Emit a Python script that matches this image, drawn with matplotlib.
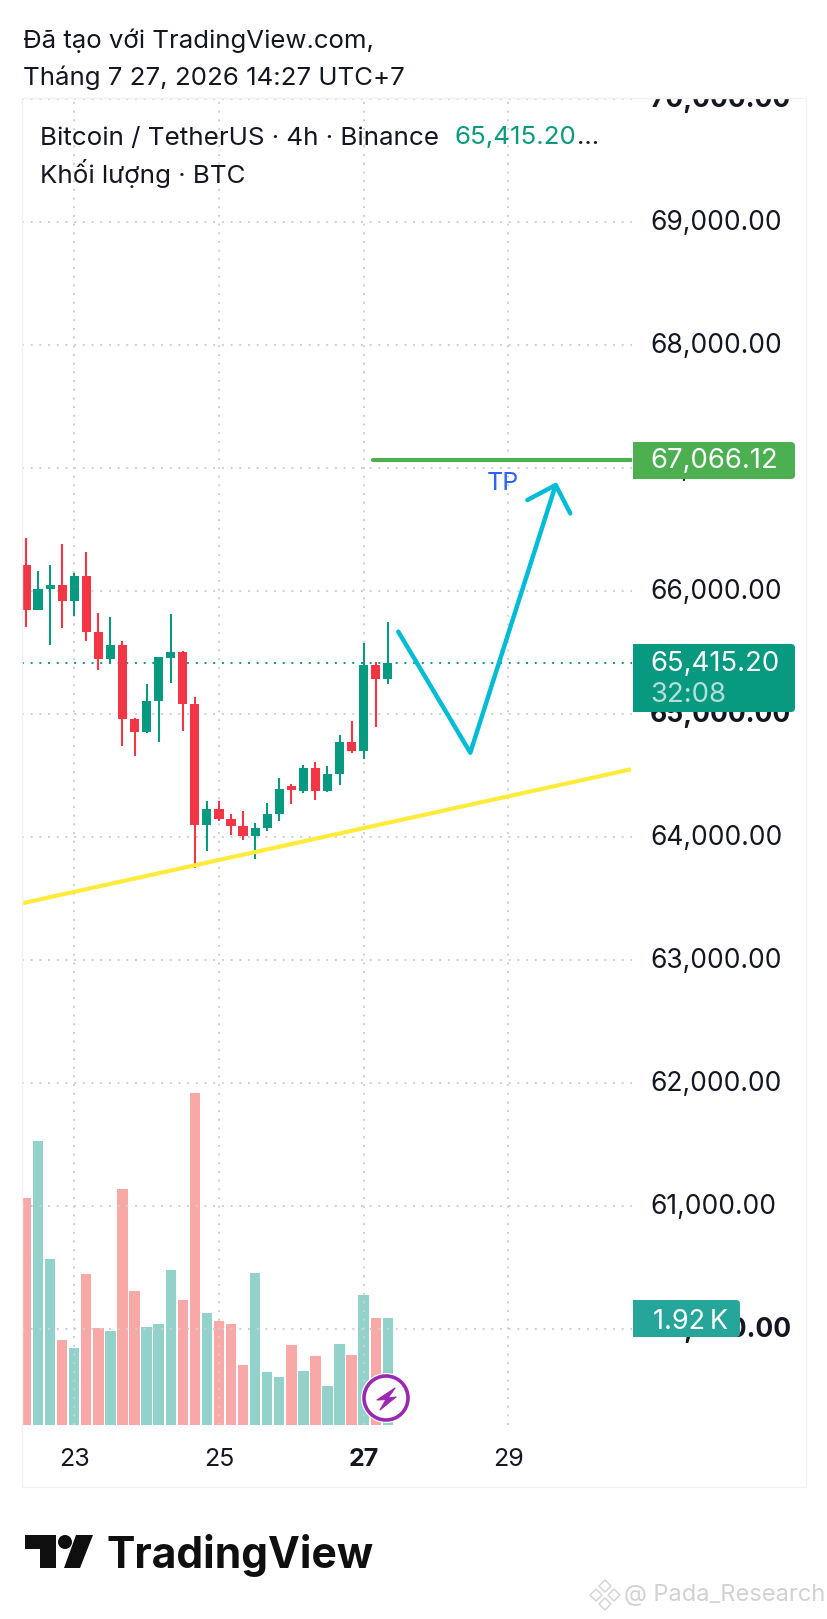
import matplotlib
matplotlib.use("Agg")
import matplotlib.pyplot as plt
from matplotlib.patches import Rectangle, FancyBboxPatch, Circle, Polygon
from matplotlib.transforms import Bbox, ScaledTranslation

plt.rcParams['font.family'] = ['Inter', 'DejaVu Sans']

# ---------- data ----------
highs = [66425, 66163, 66206, 66382, 66141, 66312, 65818, 65789, 65588, 64965, 65238,
         65463, 65808, 65512, 65133, 64293, 64293, 64182, 64209, 64114, 64276, 64477,
         64428, 64583, 64604, 64577, 64827, 64938, 65575, 65417, 65743]
lows = [65705, 65840, 65556, 65699, 65794, 65593, 65355, 65407, 64737, 64653, 64840,
        64767, 65252, 64862, 63748, 63886, 64130, 64014, 63970, 63816, 64049, 64130,
        64268, 64358, 64301, 64363, 64420, 64677, 64634, 64894, 65244]
opens = [66211, 65840, 66014, 66046, 65916, 66117, 65664, 65444, 65558, 64957, 64851,
         65100, 65455, 65499, 65081, 64098, 64228, 64141, 64089, 64008, 64068, 64184,
         64393, 64371, 64561, 64369, 64507, 64767, 64696, 65396, 65282]
closes = [65843, 66016, 66043, 65916, 66117, 65664, 65444, 65558, 64957, 64851, 65100,
          65458, 65499, 65081, 64098, 64228, 64141, 64089, 64008, 64068, 64184, 64388,
          64382, 64561, 64369, 64507, 64767, 64696, 65396, 65282, 65415]
volumes = [4086, 5112, 2982, 1524, 1380, 2724, 1752, 1698, 4254, 2418, 1758, 1824, 2784,
           2250, 5970, 2022, 1866, 1824, 1074, 2730, 948, 858, 1434, 978, 1248, 696,
           1458, 1260, 2340, 1932, 1920]
price_ticks = [60000, 61000, 62000, 63000, 64000, 65000, 66000, 67000, 68000, 69000, 70000]
bold_prices = [60000, 65000, 70000]
date_ticks = [4, 16, 28, 40]
date_labels = ['23', '25', '27', '29']
last_price = 65415.20
tp_price = 67066.12
green_x = [28.77, 50.17]
support_x = [-0.25, 50.17]
support_y = [63460, 64548]
path_x = [30.87, 36.84, 43.92]
path_y = [65667, 64683, 66859]
wing_x = [41.57, 43.92, 45.13]
wing_y = [66737, 66859, 66629]

UP, DOWN = '#089981', '#f23645'
VOL_UP, VOL_DOWN = '#92d2ca', '#f8a9a7'
W, H = 828, 1619
fig = plt.figure(figsize=(W / 100, H / 100), dpi=100, facecolor='white')

L, R, T, B = 22, 632, 98.5, 1425
rect = [L / W, 1 - B / H, (R - L) / W, (B - T) / H]
ymax = 65000 + (713.7 - T) / 0.123
ymin = 65000 - (B - 713.7) / 0.123
xmin, xmax = (L - 26) / 12.06, (R - 26) / 12.06

# volume pane (behind)
ax_v = fig.add_axes(rect, zorder=1)
ax_v.set_xlim(xmin, xmax)
ax_v.set_ylim(0, (B - T) * 18)
ax_v.axis('off')
cols = [UP if c >= o else DOWN for o, c in zip(opens, closes)]
vcols = [VOL_UP if c >= o else VOL_DOWN for o, c in zip(opens, closes)]
ax_v.bar(range(len(volumes)), volumes, width=0.86, color=vcols, edgecolor='none')

# price pane
GRID_DASH = (0, (1, 3.47))
ax = fig.add_axes(rect, zorder=2)
ax.patch.set_visible(False)
ax.set_xlim(xmin, xmax)
ax.set_ylim(ymin, ymax)
for s in ax.spines.values():
    s.set_visible(False)
ax.grid(True, color='#cfcfcf', lw=1.4, ls=GRID_DASH, zorder=0)
ax.set_axisbelow(True)
ax.set_yticks(price_ticks)
ax.set_yticklabels([f'{p:,.2f}' for p in price_ticks])
ax.yaxis.tick_right()
ax.tick_params(axis='y', length=0, pad=13, labelsize=19, labelcolor='#131722')
ax.set_xticks(date_ticks)
ax.set_xticklabels(date_labels)
ax.tick_params(axis='x', length=0, pad=16.7, labelsize=18, labelcolor='#131722')
clip = Bbox([[0, 0], [W, H - T]])
nudge = ScaledTranslation(0, -1.5 / 100, fig.dpi_scale_trans)
for p, tick in zip(price_ticks, ax.yaxis.get_major_ticks()):
    lab = tick.label2
    lab.set_ha('left')
    lab.set_va('center')
    lab.set_transform(lab.get_transform() + nudge)
    if p in bold_prices:
        lab.set_fontweight('bold')
    lab.set_clip_box(clip)
    lab.set_clip_on(True)
ax.get_xticklabels()[2].set_fontweight('bold')

ax.axhline(last_price, color=UP, lw=1.4, ls=GRID_DASH, zorder=1)

xs = range(len(opens))
ax.vlines(xs, lows, highs, colors=cols, lw=1.5, zorder=3)
ax.bar(xs, [max(abs(c - o), 30) for o, c in zip(opens, closes)],
       bottom=[min(o, c) for o, c in zip(opens, closes)],
       width=0.76, color=cols, edgecolor='none', zorder=4)

ax.plot(support_x, support_y, color='#ffeb3b', lw=3, solid_capstyle='butt', zorder=5)
ax.plot(green_x, [tp_price, tp_price], color='#4caf50', lw=3, solid_capstyle='round', zorder=5)
ax.plot(path_x, path_y, color='#00bcd4', lw=3.2, solid_capstyle='round', solid_joinstyle='round', zorder=6)
ax.plot(wing_x, wing_y, color='#00bcd4', lw=3.2, solid_capstyle='round', solid_joinstyle='round', zorder=6)

# overlay in pixel units: tags, captions, logo
ov = fig.add_axes([0, 0, 1, 1], zorder=3)
ov.set_xlim(0, W)
ov.set_ylim(H, 0)
ov.axis('off')
ov.add_patch(Rectangle((22, 98), 784, 1389, fc='none', ec='#f1f1f1', lw=1))


def tag(x0, x1, y0, y1, color):
    ov.add_patch(Rectangle((x0, y0), x1 - x0 - 4, y1 - y0, fc=color, ec='none'))
    ov.add_patch(FancyBboxPatch((x1 - 12, y0 + 4), 8, y1 - y0 - 8,
                                boxstyle='round,pad=4', fc=color, ec='none'))


tag(633, 795, 442, 479, '#4caf50')
ov.text(650.5, 461, f'{tp_price:,.2f}', color='white', fontsize=19.8, va='center')
tag(633, 795, 644, 712, UP)
ov.text(650.5, 664, f'{last_price:,.2f}', color='white', fontsize=19.8, va='center')
ov.text(650.5, 694.5, '32:08', color='#b5e0d9', fontsize=19.8, va='center')
tag(633, 740, 1300, 1337, '#26a69a')
ov.text(653, 1322, '1.92\u2009K', color='white', fontsize=19.5, va='center')

ov.text(487, 483, 'TP', color='#2962ff', fontsize=18, va='center')

TXT = '#131722'
ov.text(23, 41, 'Đã tạo với TradingView.com,', color=TXT, fontsize=18.6, va='center')
ov.text(23, 78, 'Tháng 7 27, 2026 14:27 UTC+7', color=TXT, fontsize=18.6, va='center')
ov.text(40, 138, 'Bitcoin / TetherUS · 4h · Binance', color=TXT, fontsize=18.7, va='center')
ov.text(455, 138, '65,415.20', color=UP, fontsize=18.7, va='center')
ov.text(577, 138, '...', color=TXT, fontsize=18.7, va='center')
ov.text(40, 173, 'Khối lượng · BTC', color=TXT, fontsize=18.7, va='center')

# lightning badge
ov.add_patch(Circle((386, 1398), 25, fc='white', ec='none', zorder=5))
ov.add_patch(Circle((386, 1398), 22, fc='white', ec='#9c27b0', lw=2.6, zorder=6))
ov.add_patch(Polygon([(395, 1388), (377, 1400), (386, 1399.5), (380, 1410), (396, 1397), (388, 1398)],
                     closed=True, fc='#9c27b0', ec='#9c27b0', lw=0.8, joinstyle='round', zorder=7))

# TradingView logo
LOGO = '#0f0f0f'
ov.add_patch(Polygon([(25.5, 1535), (56, 1535), (56, 1568), (40, 1568), (40, 1549), (25.5, 1549)],
                     closed=True, fc=LOGO, ec='none'))
ov.add_patch(Circle((65, 1542), 7, fc=LOGO, ec='none'))
ov.add_patch(Polygon([(76, 1535), (93, 1535), (80, 1568), (64, 1568)], closed=True, fc=LOGO, ec='none'))
ov.text(107, 1568, 'TradingView', color=LOGO, fontsize=30.7, fontweight='bold', va='baseline')

# watermark
WM = '#d2d2d2'
for dx, dy in [(0, -9), (-9, 0), (9, 0), (0, 9)]:
    cx, cy = 605 + dx, 1595 + dy
    ov.add_patch(Polygon([(cx, cy - 6), (cx + 6, cy), (cx, cy + 6), (cx - 6, cy)], closed=True,
                         fc='none', ec=WM, lw=1))
ov.text(624, 1595, '@ Pada_Research', color=WM, fontsize=17, va='center')

fig.savefig('out.png', dpi=100, facecolor='white')
